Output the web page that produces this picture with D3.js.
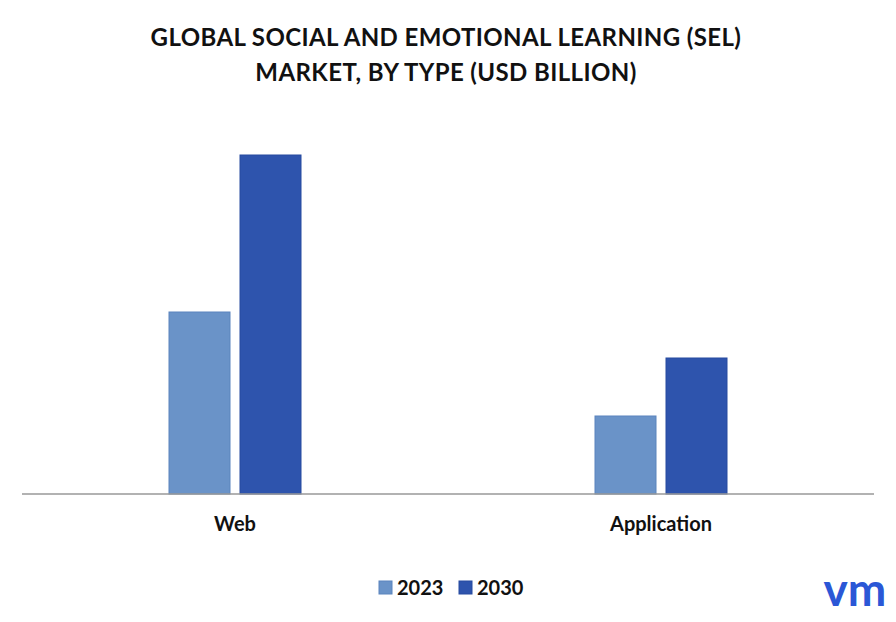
<!DOCTYPE html>
<html><head><meta charset="utf-8">
<script src="https://cdn.jsdelivr.net/npm/d3@7"></script>
<style>body{margin:0;background:#fff}</style>
</head><body>
<svg id="c" width="896" height="622"></svg>
<script>
const categories = ["Web", "Application"];
const seriesNames = ["2023", "2030"];
const values2023 = [1.82, 0.78];
const values2030 = [3.39, 1.36];
const colors = ["#6a93c8", "#2e54ad"];

const svg = d3.select("#c");
const font = "Lato, 'Open Sans', sans-serif";
svg.append("text").attr("x",446).attr("y",46).attr("text-anchor","middle")
  .attr("font-family",font).attr("font-weight","bold").attr("font-size",24).attr("fill","#111")
  .attr("letter-spacing",0.4).text("GLOBAL SOCIAL AND EMOTIONAL LEARNING (SEL)");
svg.append("text").attr("x",446).attr("y",81).attr("text-anchor","middle")
  .attr("font-family",font).attr("font-weight","bold").attr("font-size",24).attr("fill","#111")
  .attr("letter-spacing",0.4).text("MARKET, BY TYPE (USD BILLION)");

const x = d3.scaleBand().domain(categories).range([22,874]);
const y = d3.scaleLinear().domain([0,3.39]).range([494,155]);
const series = [values2023, values2030];
const bw = 61, gap = 10;
categories.forEach((c,i)=>{
  const cx = x(c) + x.bandwidth()/2;
  series.forEach((vals,s)=>{
    const x0 = s===0 ? cx - gap/2 - bw : cx + gap/2;
    svg.append("rect").attr("x",x0).attr("y",y(vals[i])).attr("width",bw)
      .attr("height",y(0)-y(vals[i])).attr("fill",colors[s])
      .attr("stroke", s===0?"#5a84bd":"#264a9f").attr("stroke-width",1);
  });
  svg.append("text").attr("x",cx).attr("y",531).attr("text-anchor","middle")
    .attr("font-family",font).attr("font-weight","bold").attr("font-size",20).attr("fill","#111").text(c);
});
svg.append("line").attr("x1",22).attr("x2",874).attr("y1",494).attr("y2",494)
  .attr("stroke","#999").attr("stroke-width",1.5);

const lx = [379, 459];
seriesNames.forEach((n,s)=>{
  svg.append("rect").attr("x",lx[s]).attr("y",581).attr("width",13).attr("height",13)
    .attr("fill",colors[s]).attr("stroke", s===0?"#5a84bd":"#264a9f");
  svg.append("text").attr("x",lx[s]+18).attr("y",595).attr("font-family",font)
    .attr("font-weight","bold").attr("font-size",20).attr("fill","#111").text(n);
});
svg.append("text").attr("x",855).attr("y",606).attr("text-anchor","middle")
  .attr("font-family",font).attr("font-weight","bold").attr("font-size",46)
  .attr("fill","#2b57d6").text("vm");
</script>
</body></html>
